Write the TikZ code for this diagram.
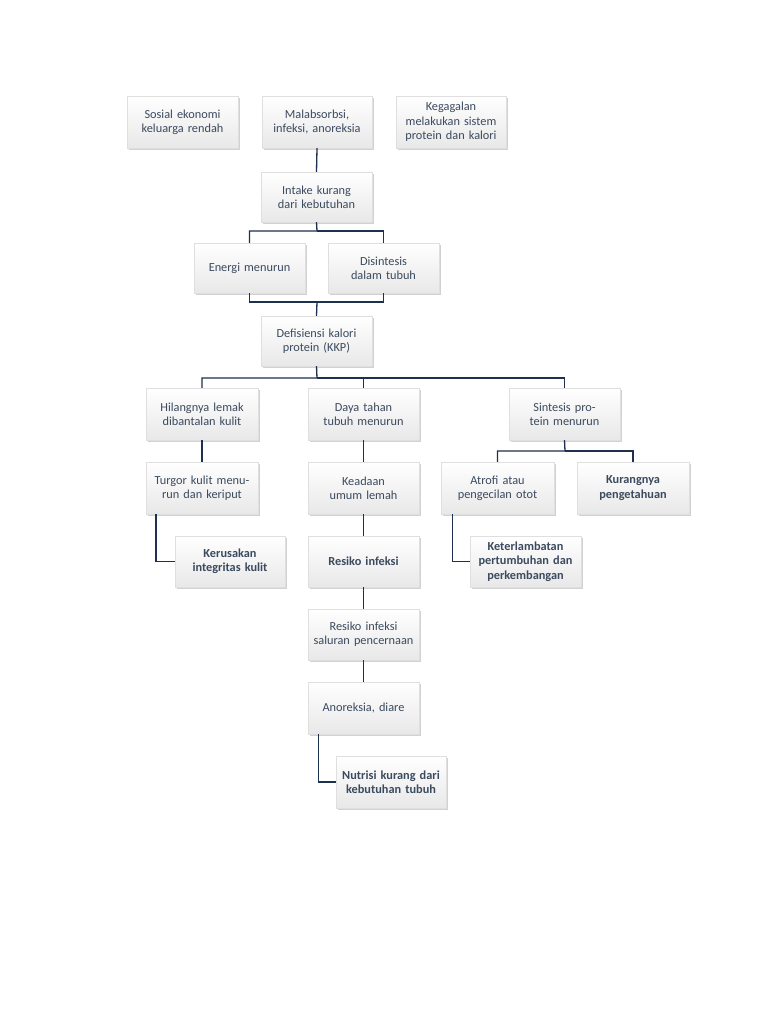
\documentclass[tikz,border=0pt]{standalone}
\usepackage{fontspec}
\setmainfont{Carlito}
\usetikzlibrary{shadows}
\definecolor{txt}{HTML}{3B4A5E}
\definecolor{ln}{HTML}{1F2F4F}
\tikzset{
  bx/.style={draw=gray!25, line width=0.4pt, top color=white, bottom color=gray!18,
    drop shadow={shadow xshift=1.5pt, shadow yshift=-2pt, opacity=0.35},
    text=txt, align=center, inner sep=2pt,
    font=\fontsize{12.3}{14.3}\selectfont},
  bb/.style={bx, font=\fontsize{12.3}{14.3}\selectfont\bfseries},
  cn/.style={draw=ln, line width=1.3pt}
}
\newcommand{\mybox}[7][bx]{%
  \node[#1, minimum width=#4-#2, minimum height=#5-#3, text width=#4-#2-8] (#6) at ({(#2+#4)/2},{(#3+#5)/2}) {#7};}
\begin{document}
\begin{tikzpicture}[x=1pt,y=-1pt]
\useasboundingbox (0,0) rectangle (768,1024);
\fill[white] (0,0) rectangle (768,1024);
\mybox{127}{96}{238}{148}{a}{Sosial ekonomi keluarga rendah}
\mybox{262}{96}{372}{148}{b}{Malabsorbsi, infeksi, anoreksia}
\mybox{396}{96}{506}{148}{c}{Kegagalan melakukan sistem protein dan kalori}
\mybox{261}{172}{372}{222}{d}{Intake kurang dari kebutuhan}
\mybox{194}{243}{305}{293}{e}{Energi menurun}
\mybox{328}{243}{439}{293}{f}{Disintesis dalam tubuh}
\mybox{261}{316}{372}{366}{g}{Defisiensi kalori protein (KKP)}
\mybox{146}{388}{258}{440}{h}{Hilangnya lemak dibantalan kulit}
\mybox{308}{388}{419}{440}{i}{Daya tahan tubuh menurun}
\mybox{509}{388}{620}{440}{j}{Sintesis protein menurun}
\mybox{146}{462}{258}{514}{k}{Turgor kulit menurun dan keriput}
\mybox{308}{462}{419}{514}{l}{Keadaan umum lemah}
\mybox{441}{462}{554}{514}{m}{Atrofi atau pengecilan otot}
\mybox[bb]{577}{462}{689}{514}{n}{Kurangnya pengetahuan}
\mybox[bb]{175}{536}{285}{587}{o}{Kerusakan integritas kulit}
\mybox[bb]{308}{536}{419}{587}{p}{Resiko infeksi}
\mybox[bb]{470}{536}{581}{587}{q}{Keterlambatan pertumbuhan dan perkembangan}
\mybox{308}{609}{419}{660}{r}{Resiko infeksi saluran pencernaan}
\mybox{308}{682}{419}{734}{s}{Anoreksia, diare}
\mybox[bb]{336}{756}{446}{808}{t}{Nutrisi kurang dari kebutuhan tubuh}
\coordinate (j1) at (317,231);
\coordinate (j2) at (317,302);
\coordinate (j3) at (317,378);
\coordinate (j4) at (565,451);
\draw[cn] (b.south) -- (d.north);
\draw[cn] (d.south) -- (j1) -| (e.north);
\draw[cn] (j1) -| (f.north);
\draw[cn] (e.south) |- (j2) -| (f.south);
\draw[cn] (j2) -- (g.north);
\draw[cn] (g.south) -- (j3) -| (h.north);
\draw[cn] (j3) -| (i.north);
\draw[cn] (j3) -| (j.north);
\draw[cn] (h) -- (k);
\draw[cn] ([xshift=-46pt]k.south) |- (o.west);
\draw[cn] (i) -- (l); \draw[cn] (l) -- (p); \draw[cn] (p) -- (r); \draw[cn] (r) -- (s);
\draw[cn] (j.south) -- (j4) -| (m.north);
\draw[cn] (j4) -| (n.north);
\draw[cn] ([xshift=-45pt]m.south) |- (q.west);
\draw[cn] ([xshift=-45pt]s.south) |- (t.west);
\end{tikzpicture}
\end{document}
